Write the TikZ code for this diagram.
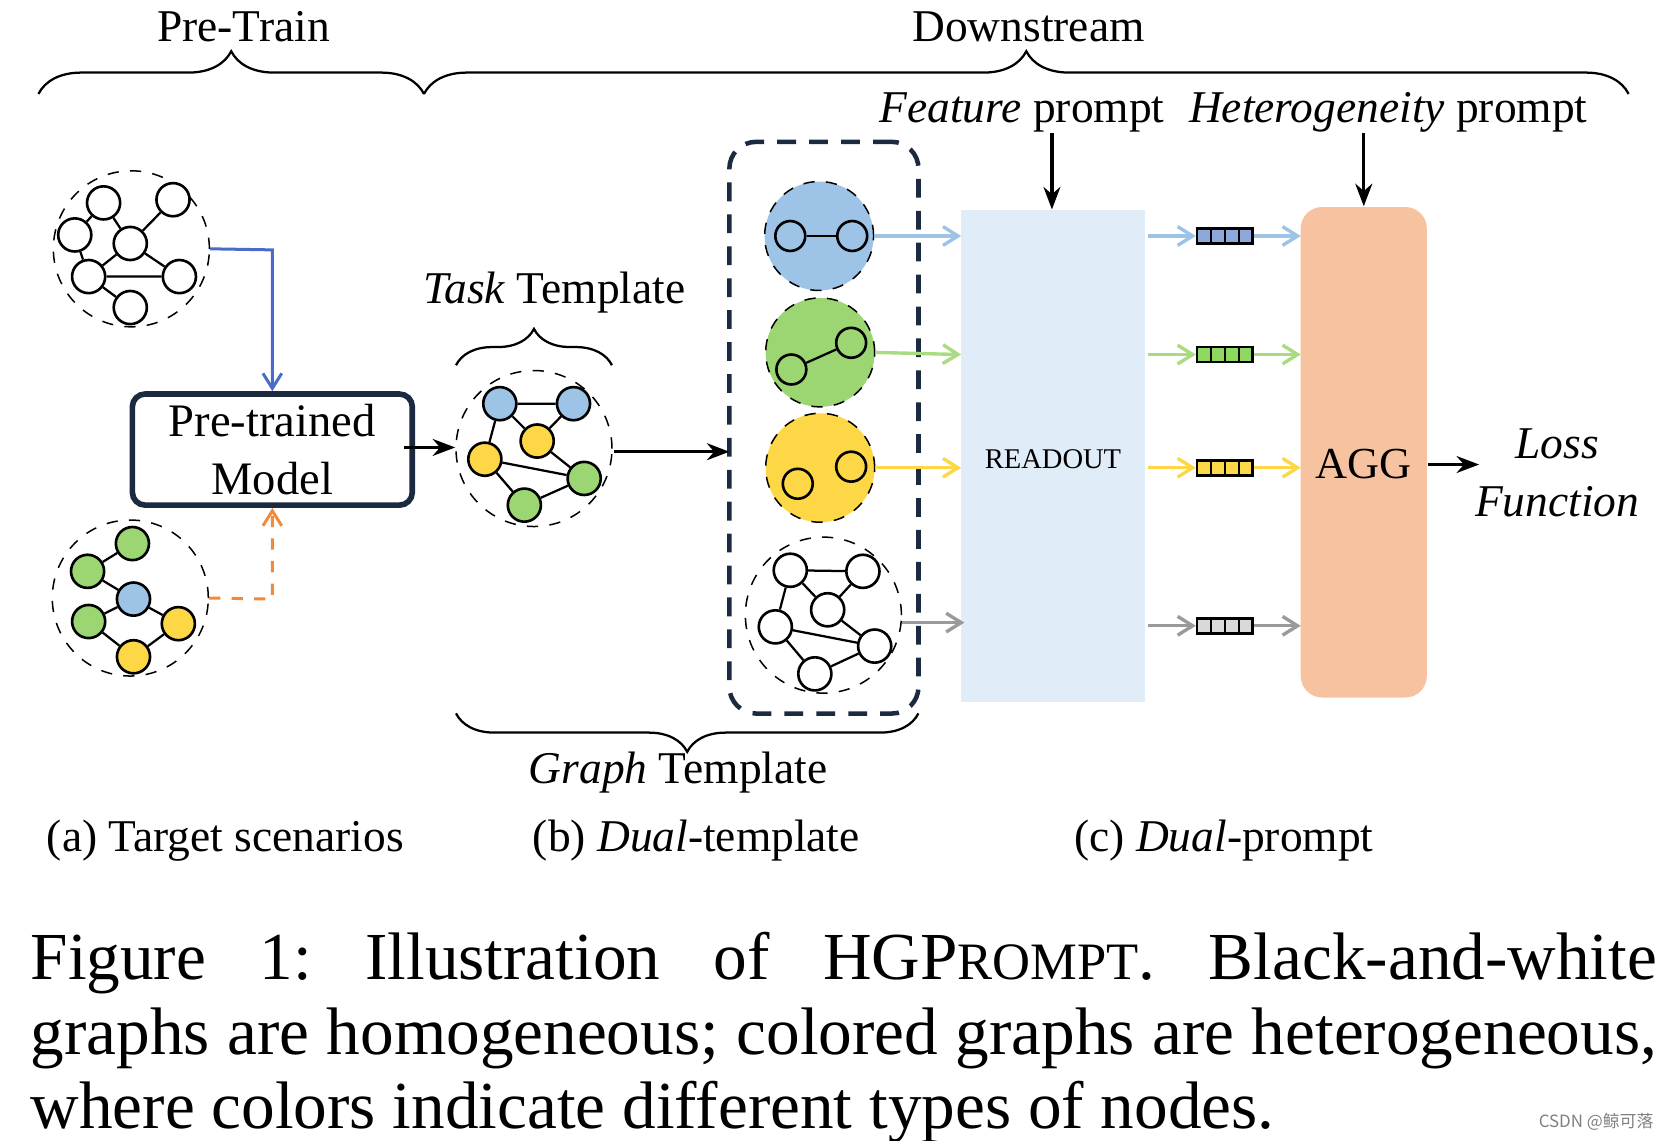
\documentclass[tikz,border=0pt]{standalone}
\usepackage{fontspec}
\setmainfont{Liberation Serif}
\newfontfamily\cjk{Noto Sans CJK SC}
\usetikzlibrary{decorations.pathreplacing,arrows.meta}
\definecolor{navy}{HTML}{1B2A40}
\definecolor{nblue}{HTML}{9DC3E6}
\definecolor{ngreen}{HTML}{9BD673}
\definecolor{nyellow}{HTML}{FDD745}
\definecolor{rdbg}{HTML}{E0ECF8}
\definecolor{aggbg}{HTML}{F6C29F}
\definecolor{vblue}{HTML}{8FA8DC}
\definecolor{vgreen}{HTML}{8CD860}
\definecolor{vgray}{HTML}{D9D9D9}
\definecolor{ablue}{HTML}{9DC3E6}
\definecolor{agreen}{HTML}{A9DB80}
\definecolor{ayellow}{HTML}{FDD745}
\definecolor{agray}{HTML}{9A9A9A}
\definecolor{lblue}{HTML}{4A6CC8}
\definecolor{lorange}{HTML}{F08A3C}
\tikzset{
 lbl/.style={font=\fontsize{12.1}{14}\selectfont, inner sep=0pt},
 gc/.style={circle,draw,dashed,thin,minimum size=14.6mm,inner sep=0pt},
 cc/.style={circle,draw,dashed,thin,minimum size=10.2mm,inner sep=0pt},
 nd/.style={circle,draw,line width=0.7pt,minimum size=3.1mm,inner sep=0pt,fill=white},
 sn/.style={circle,draw,line width=0.7pt,minimum size=2.8mm,inner sep=0pt},
 ed/.style={line width=0.6pt},
 br/.style={decorate,decoration={brace,amplitude=4mm},line width=0.6pt},
 arr/.style={-{Stealth[length=6pt,width=4.5pt]},line width=0.9pt},
 carr/.style={-{Straight Barb[length=4pt,width=5pt]},line width=0.9pt},
 vec/.style={draw,line width=0.7pt,minimum width=5.2mm,minimum height=1.4mm,inner sep=0pt},
}
\begin{document}
\frenchspacing
\begin{tikzpicture}[x=0.01cm,y=-0.01cm]
\useasboundingbox (0,0) rectangle (1560,1068);
% top labels and braces
\node[lbl] (pt) at (228,25) {Pre-Train};
\node[lbl] (ds) at (963,25) {Downstream};
\draw[br] (36,88) -- (397,88);
\draw[br] (397,88) -- (1525,88);
\node[lbl] (fp) at (957,105) {\textit{Feature} prompt};
\node[lbl] (hp) at (1300,105) {\textit{Heterogeneity} prompt};
% graph 1 (homogeneous)
\node[gc] (g1) at (123,233) {};
\node[nd] (a) at (97,190) {};
\node[nd] (b) at (162,187) {};
\node[nd] (c) at (70,220) {};
\node[nd] (d) at (122,228) {};
\node[nd] (e) at (83,259) {};
\node[nd] (f) at (168,259) {};
\node[nd] (g) at (122,288) {};
\draw[ed] (a)--(c) (a)--(d) (b)--(d) (c)--(e) (d)--(e) (d)--(f) (e)--(f) (e)--(g);
% graph 2 (heterogeneous)
\node[gc] (g2) at (122,560) {};
\node[nd,fill=ngreen] (h1) at (124,509) {};
\node[nd,fill=ngreen] (h2) at (82,535) {};
\node[nd,fill=ngreen] (h3) at (83,582) {};
\node[nd,fill=nblue] (h4) at (125,561) {};
\node[nd,fill=nyellow] (h5) at (167,584) {};
\node[nd,fill=nyellow] (h6) at (125,615) {};
\draw[ed] (h1)--(h2) (h2)--(h4) (h4)--(h5) (h3)--(h4) (h3)--(h6) (h6)--(h5);
% model box
\node[draw=navy,line width=1.5pt,rounded corners=1.2mm,minimum width=26.2mm,minimum height=10.4mm,align=center,inner sep=0pt,font=\fontsize{12.4}{15.5}\selectfont] (pm) at (255,421) {Pre-trained\\Model};
\coordinate (bc) at (255,234);
\coordinate (oc) at (255,561);
\draw[carr,draw=lblue,line width=0.8pt] (g1.east) -- (bc) -- (pm.north);
\draw[carr,draw=lorange,dashed,line width=0.8pt] (g2.east) -- (oc) -- (pm.south);
% task template
\node[gc] (tg) at (500,420) {};
\node[nd,fill=nblue] (t1) at (468,378) {};
\node[nd,fill=nblue] (t2) at (537,378) {};
\node[nd,fill=nyellow] (t3) at (503,413) {};
\node[nd,fill=nyellow] (t4) at (454,430) {};
\node[nd,fill=ngreen] (t5) at (547,448) {};
\node[nd,fill=ngreen] (t6) at (491,473) {};
\draw[ed] (t1)--(t2) (t1)--(t3) (t2)--(t3) (t1)--(t4) (t3)--(t5) (t4)--(t5) (t4)--(t6) (t6)--(t5);
\coordinate (pme) at (378,419);
\draw[arr] (pme) -- (tg.west |- pme);
\node[lbl] (tt) at (519,274) {\textit{Task} Template};
\draw[decorate,decoration={brace,amplitude=3.4mm},line width=0.6pt] (427,342) -- (573,342);
% graph template box
\node[draw=navy,line width=1.2pt,rounded corners=2.5mm,minimum width=17.7mm,minimum height=53.5mm,inner sep=0pt,dash pattern=on 5pt off 3.5pt] (gt) at (771.5,400.5) {};
\coordinate (gtin) at (683,423);
\coordinate (tge) at (575,423);
\draw[arr] (tge) -- (gtin);
\node[cc,fill=nblue] (cb) at (767,221) {};
\node[sn,fill=nblue] (cb1) at (740,221) {};
\node[sn,fill=nblue] (cb2) at (798,221) {};
\draw[ed] (cb1)--(cb2);
\node[cc,fill=ngreen] (cg) at (768,330) {};
\node[sn,fill=ngreen] (cg1) at (741,346) {};
\node[sn,fill=ngreen] (cg2) at (797,321) {};
\draw[ed] (cg1)--(cg2);
\node[cc,fill=nyellow] (cy) at (768,438) {};
\node[sn,fill=nyellow] (cy1) at (747,453) {};
\node[sn,fill=nyellow] (cy2) at (797,437) {};
\node[gc] (cw) at (771,576) {};
\node[nd] (w1) at (740,534) {};
\node[nd] (w2) at (808,535) {};
\node[nd] (w3) at (775,571) {};
\node[nd] (w4) at (726,587) {};
\node[nd] (w5) at (819,605) {};
\node[nd] (w6) at (763,631) {};
\draw[ed] (w1)--(w2) (w2)--(w3) (w1)--(w3) (w1)--(w4) (w4)--(w5) (w4)--(w6) (w3)--(w5) (w6)--(w5);
\draw[decorate,decoration={brace,amplitude=3.6mm},line width=0.6pt] (860,668) -- (427,668);
\node[lbl] (gtl) at (635,723) {\textit{Graph} Template};
% readout
\node[fill=rdbg,minimum width=17.2mm,minimum height=46mm,inner sep=0pt] (ro) at (986,427) {};
\node[font=\fontsize{7.6}{9}\selectfont] (rot) at (986,430) {READOUT};
\coordinate (fpa) at (985,125);
\draw[arr] (fpa) -- (ro.north -| fpa);
% agg
\node[fill=aggbg,rounded corners=2mm,minimum width=11.8mm,minimum height=45.9mm,inner sep=0pt] (ag) at (1277,423.5) {};
\node[lbl,font=\fontsize{11.8}{13}\selectfont] (agt) at (1277,435) {AGG};
\coordinate (hpa) at (1277,125);
\draw[arr] (hpa) -- (ag.north -| hpa);
\node[lbl,align=center,font=\itshape\fontsize{12.1}{15.5}\selectfont] (lf) at (1458,443) {Loss\\Function};
\coordinate (lfin) at (1385,435);
\coordinate (age) at (1337,435);
\draw[arr] (age) -- (lfin);
% flows
\foreach \n/\y/\c/\f in {1/221/ablue/vblue,2/332/agreen/vgreen,3/438/ayellow/nyellow,4/586/agray/vgray}{
  \coordinate (r\n) at (900,\y);
  \coordinate (o\n) at (1075,\y);
  \coordinate (a\n) at (1218,\y);
  \node[vec,fill=\f] (v\n) at (1147,\y) {};
  \draw[line width=0.6pt] (1134,\y-7) -- (1134,\y+7) (1147,\y-7) -- (1147,\y+7) (1160,\y-7) -- (1160,\y+7);
  \draw[carr,draw=\c] (o\n) -- (v\n.west);
  \draw[carr,draw=\c] (v\n.east) -- (a\n);
}
\draw[carr,draw=ablue] (cb.east) -- (r1);
\draw[carr,draw=agreen] (cg.east) -- (r2);
\draw[carr,draw=ayellow] (cy.east) -- (r3);
\coordinate (wst) at (845,583);
\coordinate (wen) at (903,583);
\draw[carr,draw=agray] (wst) -- (wen);
% sublabels
\node[lbl] (la) at (211,787) {(a) Target scenarios};
\node[lbl] (lb) at (652,787) {(b) \textit{Dual}-template};
\node[lbl] (lc) at (1146,787) {(c) \textit{Dual}-prompt};
% caption
\node[anchor=north west,inner sep=0pt,text width=152.2mm,align=justify,font=\fontsize{17.9}{19.9}\selectfont] (cap) at (28,872) {Figure 1: Illustration of HGP{\fontsize{14}{19.9}\selectfont ROMPT}. Black-and-white\linebreak graphs are homogeneous; colored graphs are heterogeneous,\linebreak where colors indicate different types of nodes.};
\node[anchor=south east,inner sep=2pt,text=gray,font=\cjk\fontsize{4.5}{5}\selectfont] (wm) at (1556,1066) {CSDN @鲸可落};
\end{tikzpicture}
\end{document}
